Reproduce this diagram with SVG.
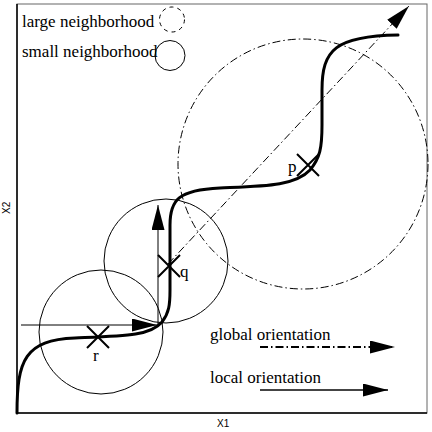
<svg xmlns="http://www.w3.org/2000/svg" width="432" height="432" viewBox="0 0 432 432">
<style>
.txt{font-family:"Liberation Serif","Times New Roman",serif;font-size:17px;fill:#000}
.ax{font-family:"Liberation Sans",Arial,sans-serif;font-size:10px;fill:#000}
.thin{fill:none;stroke:#000;stroke-width:1}
.dd{fill:none;stroke:#000;stroke-width:1;stroke-dasharray:8 3 1.5 3}
.cross{stroke:#000;stroke-width:2;fill:none}
.curve{fill:none;stroke:#000;stroke-width:3;stroke-linecap:round}
</style>
<defs>
<marker id="ah" viewBox="0 0 25 13" refX="25" refY="6.5" markerWidth="25" markerHeight="13" orient="auto" markerUnits="userSpaceOnUse">
<path d="M0,0 L25,6.5 L0,13 z" fill="#000"/>
</marker>
</defs>
<rect width="432" height="432" fill="#fff"/>
<g id="frame">
<rect x="17" y="4" width="410" height="409" fill="none" stroke="#666" stroke-width="1"/>
<line x1="17" y1="4" x2="17" y2="413" stroke="#000" stroke-width="1.5"/>
<line x1="17" y1="413" x2="427" y2="413" stroke="#000" stroke-width="1.5"/>
<text class="ax" x="217" y="427">X1</text>
<text class="ax" transform="translate(10,214) rotate(-90)">X2</text>
</g>
<g id="legend">
<text class="txt" x="22" y="27">large neighborhood</text>
<circle cx="172" cy="19.5" r="12.5" fill="none" stroke="#000" stroke-width="1" stroke-dasharray="4 4"/>
<text class="txt" x="22" y="57">small neighborhood</text>
<circle cx="170" cy="55.5" r="15" class="thin"/>
<text class="txt" x="210" y="340">global orientation</text>
<line x1="260" y1="347" x2="395" y2="347" fill="none" stroke="#000" stroke-width="2" stroke-dasharray="8 3 1.5 3" marker-end="url(#ah)"/>
<text class="txt" x="210" y="383">local orientation</text>
<line x1="260" y1="390" x2="388" y2="390" stroke="#444" stroke-width="2" marker-end="url(#ah)"/>
</g>
<g id="neighborhoods">
<circle id="large-p" cx="303" cy="164" r="125" class="dd"/>
<circle id="small-q" cx="166" cy="261" r="62" class="thin"/>
<circle id="small-r" cx="101" cy="332" r="62" class="thin"/>
</g>
<g id="connectors">
<line x1="168" y1="264" x2="409" y2="6" class="dd" marker-end="url(#ah)"/>
<line x1="21" y1="325" x2="157" y2="325" class="thin" marker-end="url(#ah)"/>
<line x1="158" y1="325" x2="158" y2="205" class="thin" marker-end="url(#ah)"/>
</g>
<g id="curve">
<path class="curve" d="M17,413 C17,360 25,340 75,338 C125,336 150,336 162,322 C169,313 170,305 170,290 L170,225 C170,200 178,190 220,188 C265,186 295,186 310,170 C320,158 322,148 322,125 L322,90 C322,50 335,36 398,35"/>
</g>
<g id="point-r">
<path class="cross" d="M87,326 L109,348 M87,348 L109,326"/>
<text class="txt" x="93" y="361">r</text>
</g>
<g id="point-q">
<path class="cross" d="M158,255 L180,277 M158,277 L180,255"/>
<text class="txt" x="180" y="277">q</text>
</g>
<g id="point-p">
<path class="cross" d="M297,154 L319,176 M297,176 L319,154"/>
<text class="txt" x="288" y="172">p</text>
</g>
</svg>
